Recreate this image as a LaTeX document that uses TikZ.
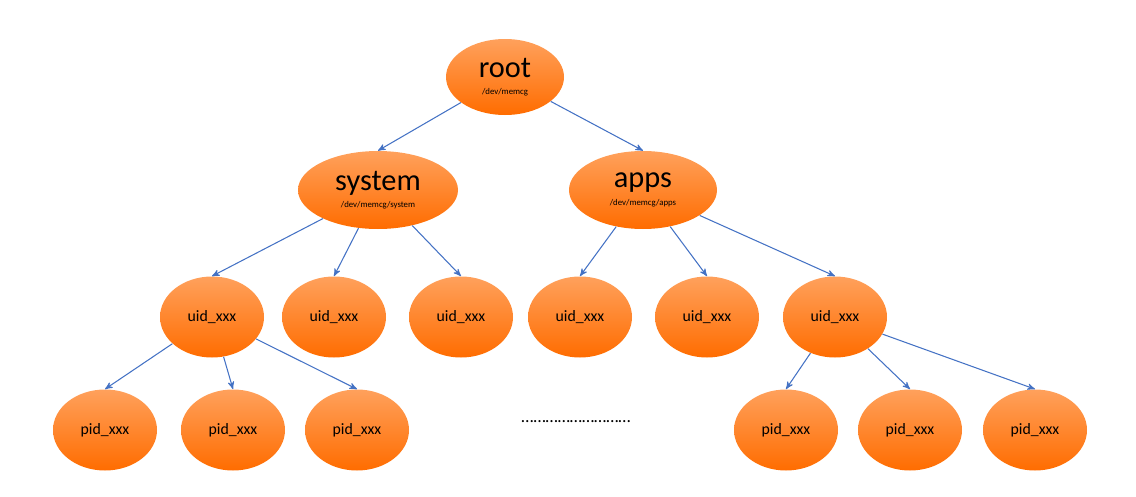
\documentclass[tikz,border=0pt]{standalone}
\usepackage{fontspec}
\setmainfont{Carlito}
\usetikzlibrary{arrows,shapes.geometric}
\definecolor{linkblue}{HTML}{4472C4}
\tikzset{
  blob/.style={ellipse,inner sep=0pt,top color=orange!60!white!90!red,bottom color=orange!85!red,
               shading angle=0,draw=none,align=center},
  big/.style={blob,minimum width=118*0.02cm,minimum height=76*0.02cm},
  small/.style={blob,minimum width=104*0.02cm,minimum height=81*0.02cm,font=\small},
  link/.style={->,>=stealth',linkblue,semithick}
}
\begin{document}
\begin{tikzpicture}[x=0.02cm,y=-0.02cm]
  \useasboundingbox (0,0) rectangle (1136,497);
  % top levels
  \node[big] (root) at (505,77) {{\LARGE root}\\[-2pt]{\fontsize{5}{6}\selectfont /dev/memcg}};
  \node[big,minimum width=160*0.02cm,minimum height=78*0.02cm] (system) at (378,190)
       {{\LARGE system}\\[-2pt]{\fontsize{5}{6}\selectfont /dev/memcg/system}};
  \node[big,minimum width=148*0.02cm,minimum height=78*0.02cm] (apps) at (643,190)
       {{\LARGE apps}\\[-2pt]{\fontsize{5}{6}\selectfont /dev/memcg/apps}};
  % uid level
  \foreach \n/\x in {u1/212,u2/334,u3/461,u4/580,u5/707,u6/835}
    \node[small] (\n) at (\x,317) {uid\_xxx};
  % pid level
  \foreach \n/\x in {p1/105,p2/233,p3/357,p4/786,p5/910,p6/1035}
    \node[small] (\n) at (\x,430) {pid\_xxx};
  \node (dots) at (576,422) {\dots\dots\dots\dots\dots\dots\dots\dots\dots};
  % links
  \draw[link] (root) -- (system.north);
  \draw[link] (root) -- (apps.north);
  \foreach \a/\b in {system/u1,system/u2,system/u3,apps/u4,apps/u5,apps/u6,u1/p1,u1/p2,u1/p3,u6/p4,u6/p5,u6/p6}
    \draw[link] (\a) -- (\b.north);
\end{tikzpicture}
\end{document}
